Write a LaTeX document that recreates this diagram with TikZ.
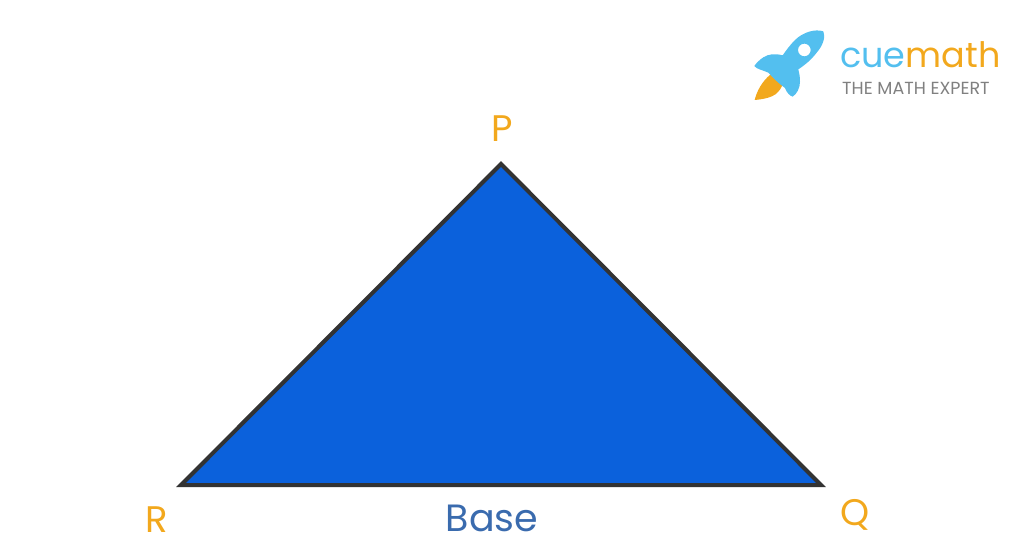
\documentclass[tikz,border=0pt]{standalone}
\usepackage{fontspec}
\setmainfont{Poppins}
\definecolor{tribl}{HTML}{0B61DC}
\definecolor{triln}{HTML}{333333}
\definecolor{lblor}{HTML}{F2A81D}
\definecolor{lblbl}{HTML}{3A6BAE}
\definecolor{rocket}{HTML}{53BFEF}
\definecolor{gry}{HTML}{808080}
\tikzset{
  vertexlabel/.style={text=lblor,font=\fontsize{37}{37}\selectfont,inner sep=0pt},
  baselabel/.style={text=lblbl,font=\fontsize{38}{38}\selectfont,inner sep=0pt},
}
\begin{document}
\begin{tikzpicture}[x=1pt,y=-1pt]
\useasboundingbox (0,0) rectangle (1016,553);
\coordinate (P) at (501,164);
\coordinate (Q) at (821,485);
\coordinate (R) at (181,485);
\draw[fill=tribl,draw=triln,line width=4pt,miter limit=10] (P) -- (Q) -- (R) -- cycle;
\node[vertexlabel] (lp) at (502,129) {P};
\node[vertexlabel] (lr) at (157,520) {R};
\node[vertexlabel] (lq) at (855,515) {Q};
\node[baselabel] (lb) at (492,518) {Base};
% logo
\begin{scope}[shift={(740,20)},x=0.3333pt,y=-0.3333pt]
\fill[lblor] (92,163) .. controls (65,185) and (50,215) .. (44,240) .. controls (70,238) and (95,232) .. (108,222) .. controls (118,213) and (125,203) .. (128,192) -- cycle;
\fill[rocket,even odd rule] (250,34) .. controls (225,26) and (190,36) .. (165,60) .. controls (150,75) and (138,92) .. (128,106)
  .. controls (105,100) and (85,102) .. (70,112) .. controls (58,120) and (48,130) .. (43,138) .. controls (50,148) and (68,150) .. (85,158)
  .. controls (100,175) and (118,192) .. (135,204) .. controls (140,218) and (150,228) .. (158,230) .. controls (170,222) and (180,205) .. (180,185) .. controls (180,170) and (178,160) .. (175,148)
  .. controls (195,135) and (215,118) .. (230,98) .. controls (250,75) and (257,50) .. (250,34) -- cycle
  (193,90) circle (19);
\end{scope}
\node[inner sep=0pt,font=\fontsize{35}{35}\selectfont,anchor=base west] (lg) at (840,68) {\textcolor{rocket}{cue}\textcolor{lblor}{math}};
\node[inner sep=0pt,font=\fontsize{17.5}{17.5}\selectfont,text=gry,anchor=base west] (tg) at (842,95) {THE MATH EXPERT};
\end{tikzpicture}
\end{document}
